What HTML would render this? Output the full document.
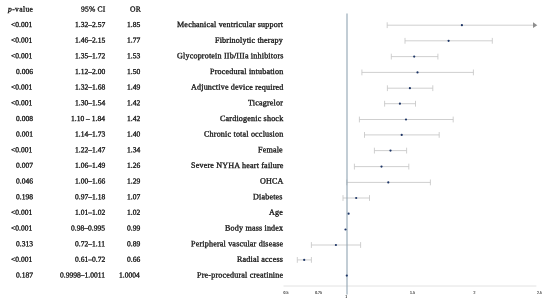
<!DOCTYPE html>
<html><head><meta charset="utf-8"><title>Forest plot</title>
<style>
html,body{margin:0;padding:0;background:#fff;}
body{width:550px;height:306px;position:relative;overflow:hidden;font-family:"Liberation Serif",serif;color:#151515;}
.t{position:absolute;white-space:nowrap;font-size:7.55px;line-height:10px;height:10px;text-align:right;-webkit-text-stroke:0.32px #151515;}
.p{right:517.5px;}
.c{right:444.9px;}
.o{right:409.8px;}
.l{right:267px;font-size:8.1px;letter-spacing:0.17px;margin-right:-0.17px}
svg{position:absolute;left:0;top:0;}
.ax{font-family:"Liberation Serif",serif;font-size:3.9px;fill:#2a2a2a;stroke:#2a2a2a;stroke-width:0.12px;}
</style></head><body>

<div class="t p" style="top:4px;transform:translateY(0.57px) rotate(0.05deg)"><span style="letter-spacing:0.38px;margin-right:-0.38px"><i>p</i>-value</span></div>
<div class="t c" style="top:4px;transform:translateY(0.57px) rotate(0.05deg)"><span style="letter-spacing:0.2px;margin-right:-0.2px">95% CI</span></div>
<div class="t o" style="top:4px;transform:translateY(0.57px) rotate(0.05deg)"><span style="letter-spacing:0.2px;margin-right:-0.2px">OR</span></div>
<div class="t p" style="top:19px;transform:translateY(0.97px) rotate(0.05deg)">&lt;0.001</div>
<div class="t c" style="top:19px;transform:translateY(0.97px) rotate(0.05deg)">1.32–2.57</div>
<div class="t o" style="top:19px;transform:translateY(0.97px) rotate(0.05deg)">1.85</div>
<div class="t l" style="top:20px;transform:translateY(0.00px) rotate(0.05deg)">Mechanical ventricular support</div>
<div class="t p" style="top:35px;transform:translateY(0.62px) rotate(0.05deg)">&lt;0.001</div>
<div class="t c" style="top:35px;transform:translateY(0.62px) rotate(0.05deg)">1.46–2.15</div>
<div class="t o" style="top:35px;transform:translateY(0.62px) rotate(0.05deg)">1.77</div>
<div class="t l" style="top:35px;transform:translateY(0.66px) rotate(0.05deg)">Fibrinolytic therapy</div>
<div class="t p" style="top:51px;transform:translateY(0.28px) rotate(0.05deg)">&lt;0.001</div>
<div class="t c" style="top:51px;transform:translateY(0.28px) rotate(0.05deg)">1.35–1.72</div>
<div class="t o" style="top:51px;transform:translateY(0.28px) rotate(0.05deg)">1.53</div>
<div class="t l" style="top:51px;transform:translateY(0.31px) rotate(0.05deg)">Glycoprotein IIb/IIIa inhibitors</div>
<div class="t p" style="top:66px;transform:translateY(0.94px) rotate(0.05deg)">0.006</div>
<div class="t c" style="top:66px;transform:translateY(0.94px) rotate(0.05deg)">1.12–2.00</div>
<div class="t o" style="top:66px;transform:translateY(0.94px) rotate(0.05deg)">1.50</div>
<div class="t l" style="top:66px;transform:translateY(0.97px) rotate(0.05deg)">Procedural intubation</div>
<div class="t p" style="top:82px;transform:translateY(0.59px) rotate(0.05deg)">&lt;0.001</div>
<div class="t c" style="top:82px;transform:translateY(0.59px) rotate(0.05deg)">1.32–1.68</div>
<div class="t o" style="top:82px;transform:translateY(0.59px) rotate(0.05deg)">1.49</div>
<div class="t l" style="top:82px;transform:translateY(0.62px) rotate(0.05deg)">Adjunctive device required</div>
<div class="t p" style="top:98px;transform:translateY(0.24px) rotate(0.05deg)">&lt;0.001</div>
<div class="t c" style="top:98px;transform:translateY(0.24px) rotate(0.05deg)">1.30–1.54</div>
<div class="t o" style="top:98px;transform:translateY(0.24px) rotate(0.05deg)">1.42</div>
<div class="t l" style="top:98px;transform:translateY(0.27px) rotate(0.05deg)">Ticagrelor</div>
<div class="t p" style="top:113px;transform:translateY(0.90px) rotate(0.05deg)">0.008</div>
<div class="t c" style="top:113px;transform:translateY(0.90px) rotate(0.05deg)">1.10 – 1.84</div>
<div class="t o" style="top:113px;transform:translateY(0.90px) rotate(0.05deg)">1.42</div>
<div class="t l" style="top:113px;transform:translateY(0.93px) rotate(0.05deg)">Cardiogenic shock</div>
<div class="t p" style="top:129px;transform:translateY(0.55px) rotate(0.05deg)">0.001</div>
<div class="t c" style="top:129px;transform:translateY(0.55px) rotate(0.05deg)">1.14–1.73</div>
<div class="t o" style="top:129px;transform:translateY(0.55px) rotate(0.05deg)">1.40</div>
<div class="t l" style="top:129px;transform:translateY(0.58px) rotate(0.05deg)">Chronic total occlusion</div>
<div class="t p" style="top:145px;transform:translateY(0.21px) rotate(0.05deg)">&lt;0.001</div>
<div class="t c" style="top:145px;transform:translateY(0.21px) rotate(0.05deg)">1.22–1.47</div>
<div class="t o" style="top:145px;transform:translateY(0.21px) rotate(0.05deg)">1.34</div>
<div class="t l" style="top:145px;transform:translateY(0.24px) rotate(0.05deg)">Female</div>
<div class="t p" style="top:160px;transform:translateY(0.86px) rotate(0.05deg)">0.007</div>
<div class="t c" style="top:160px;transform:translateY(0.86px) rotate(0.05deg)">1.06–1.49</div>
<div class="t o" style="top:160px;transform:translateY(0.86px) rotate(0.05deg)">1.26</div>
<div class="t l" style="top:160px;transform:translateY(0.89px) rotate(0.05deg)">Severe NYHA heart failure</div>
<div class="t p" style="top:176px;transform:translateY(0.52px) rotate(0.05deg)">0.046</div>
<div class="t c" style="top:176px;transform:translateY(0.52px) rotate(0.05deg)">1.00–1.66</div>
<div class="t o" style="top:176px;transform:translateY(0.52px) rotate(0.05deg)">1.29</div>
<div class="t l" style="top:176px;transform:translateY(0.55px) rotate(0.05deg)">OHCA</div>
<div class="t p" style="top:192px;transform:translateY(0.17px) rotate(0.05deg)">0.198</div>
<div class="t c" style="top:192px;transform:translateY(0.17px) rotate(0.05deg)">0.97–1.18</div>
<div class="t o" style="top:192px;transform:translateY(0.17px) rotate(0.05deg)">1.07</div>
<div class="t l" style="top:192px;transform:translateY(0.20px) rotate(0.05deg)">Diabetes</div>
<div class="t p" style="top:207px;transform:translateY(0.83px) rotate(0.05deg)">&lt;0.001</div>
<div class="t c" style="top:207px;transform:translateY(0.83px) rotate(0.05deg)">1.01–1.02</div>
<div class="t o" style="top:207px;transform:translateY(0.83px) rotate(0.05deg)">1.02</div>
<div class="t l" style="top:207px;transform:translateY(0.86px) rotate(0.05deg)">Age</div>
<div class="t p" style="top:223px;transform:translateY(0.48px) rotate(0.05deg)">&lt;0.001</div>
<div class="t c" style="top:223px;transform:translateY(0.48px) rotate(0.05deg)">0.98–0.995</div>
<div class="t o" style="top:223px;transform:translateY(0.48px) rotate(0.05deg)">0.99</div>
<div class="t l" style="top:223px;transform:translateY(0.51px) rotate(0.05deg)">Body mass index</div>
<div class="t p" style="top:239px;transform:translateY(0.14px) rotate(0.05deg)">0.313</div>
<div class="t c" style="top:239px;transform:translateY(0.14px) rotate(0.05deg)">0.72–1.11</div>
<div class="t o" style="top:239px;transform:translateY(0.14px) rotate(0.05deg)">0.89</div>
<div class="t l" style="top:239px;transform:translateY(0.17px) rotate(0.05deg)">Peripheral vascular disease</div>
<div class="t p" style="top:254px;transform:translateY(0.79px) rotate(0.05deg)">&lt;0.001</div>
<div class="t c" style="top:254px;transform:translateY(0.79px) rotate(0.05deg)">0.61–0.72</div>
<div class="t o" style="top:254px;transform:translateY(0.79px) rotate(0.05deg)">0.66</div>
<div class="t l" style="top:254px;transform:translateY(0.82px) rotate(0.05deg)">Radial access</div>
<div class="t p" style="top:270px;transform:translateY(0.45px) rotate(0.05deg)">0.187</div>
<div class="t c" style="top:270px;transform:translateY(0.45px) rotate(0.05deg)">0.9998–1.0011</div>
<div class="t o" style="top:270px;transform:translateY(0.45px) rotate(0.05deg)">1.0004</div>
<div class="t l" style="top:270px;transform:translateY(0.48px) rotate(0.05deg)">Pre-procedural creatinine</div>
<svg width="550" height="306" viewBox="0 0 550 306">
<line x1="283.5" y1="286" x2="536.4" y2="286" stroke="#e2e2e2" stroke-width="1"/>
<line x1="387.2" y1="25.2" x2="534.0" y2="25.2" stroke="#c6c6c6" stroke-width="0.85"/>
<line x1="387.2" y1="22.3" x2="387.2" y2="28.1" stroke="#c6c6c6" stroke-width="0.85"/>
<polygon points="533.0,22.3 537.3,25.2 533.0,28.1" fill="#8e8e8e"/>
<line x1="405.0" y1="40.8" x2="492.3" y2="40.8" stroke="#c6c6c6" stroke-width="0.85"/>
<line x1="405.0" y1="37.9" x2="405.0" y2="43.7" stroke="#c6c6c6" stroke-width="0.85"/>
<line x1="492.3" y1="37.9" x2="492.3" y2="43.7" stroke="#c6c6c6" stroke-width="0.85"/>
<line x1="391.3" y1="56.6" x2="437.9" y2="56.6" stroke="#c6c6c6" stroke-width="0.85"/>
<line x1="391.3" y1="53.7" x2="391.3" y2="59.5" stroke="#c6c6c6" stroke-width="0.85"/>
<line x1="437.9" y1="53.7" x2="437.9" y2="59.5" stroke="#c6c6c6" stroke-width="0.85"/>
<line x1="361.9" y1="72.4" x2="473.4" y2="72.4" stroke="#c6c6c6" stroke-width="0.85"/>
<line x1="361.9" y1="69.5" x2="361.9" y2="75.3" stroke="#c6c6c6" stroke-width="0.85"/>
<line x1="473.4" y1="69.5" x2="473.4" y2="75.3" stroke="#c6c6c6" stroke-width="0.85"/>
<line x1="387.4" y1="88.2" x2="432.8" y2="88.2" stroke="#c6c6c6" stroke-width="0.85"/>
<line x1="387.4" y1="85.3" x2="387.4" y2="91.1" stroke="#c6c6c6" stroke-width="0.85"/>
<line x1="432.8" y1="85.3" x2="432.8" y2="91.1" stroke="#c6c6c6" stroke-width="0.85"/>
<line x1="384.6" y1="103.7" x2="415.5" y2="103.7" stroke="#c6c6c6" stroke-width="0.85"/>
<line x1="384.6" y1="100.8" x2="384.6" y2="106.6" stroke="#c6c6c6" stroke-width="0.85"/>
<line x1="415.5" y1="100.8" x2="415.5" y2="106.6" stroke="#c6c6c6" stroke-width="0.85"/>
<line x1="359.4" y1="119.5" x2="453.2" y2="119.5" stroke="#c6c6c6" stroke-width="0.85"/>
<line x1="359.4" y1="116.6" x2="359.4" y2="122.4" stroke="#c6c6c6" stroke-width="0.85"/>
<line x1="453.2" y1="116.6" x2="453.2" y2="122.4" stroke="#c6c6c6" stroke-width="0.85"/>
<line x1="364.5" y1="134.9" x2="439.2" y2="134.9" stroke="#c6c6c6" stroke-width="0.85"/>
<line x1="364.5" y1="132.0" x2="364.5" y2="137.8" stroke="#c6c6c6" stroke-width="0.85"/>
<line x1="439.2" y1="132.0" x2="439.2" y2="137.8" stroke="#c6c6c6" stroke-width="0.85"/>
<line x1="374.4" y1="150.6" x2="406.6" y2="150.6" stroke="#c6c6c6" stroke-width="0.85"/>
<line x1="374.4" y1="147.7" x2="374.4" y2="153.5" stroke="#c6c6c6" stroke-width="0.85"/>
<line x1="406.6" y1="147.7" x2="406.6" y2="153.5" stroke="#c6c6c6" stroke-width="0.85"/>
<line x1="354.4" y1="166.6" x2="408.8" y2="166.6" stroke="#c6c6c6" stroke-width="0.85"/>
<line x1="354.4" y1="163.7" x2="354.4" y2="169.5" stroke="#c6c6c6" stroke-width="0.85"/>
<line x1="408.8" y1="163.7" x2="408.8" y2="169.5" stroke="#c6c6c6" stroke-width="0.85"/>
<line x1="346.8" y1="182.4" x2="430.4" y2="182.4" stroke="#c6c6c6" stroke-width="0.85"/>
<line x1="346.8" y1="179.5" x2="346.8" y2="185.3" stroke="#c6c6c6" stroke-width="0.85"/>
<line x1="430.4" y1="179.5" x2="430.4" y2="185.3" stroke="#c6c6c6" stroke-width="0.85"/>
<line x1="343.0" y1="198.0" x2="369.5" y2="198.0" stroke="#c6c6c6" stroke-width="0.85"/>
<line x1="343.0" y1="195.1" x2="343.0" y2="200.9" stroke="#c6c6c6" stroke-width="0.85"/>
<line x1="369.5" y1="195.1" x2="369.5" y2="200.9" stroke="#c6c6c6" stroke-width="0.85"/>
<line x1="311.4" y1="245.0" x2="360.6" y2="245.0" stroke="#c6c6c6" stroke-width="0.85"/>
<line x1="311.4" y1="242.1" x2="311.4" y2="247.9" stroke="#c6c6c6" stroke-width="0.85"/>
<line x1="360.6" y1="242.1" x2="360.6" y2="247.9" stroke="#c6c6c6" stroke-width="0.85"/>
<line x1="297.3" y1="259.9" x2="311.4" y2="259.9" stroke="#c6c6c6" stroke-width="0.85"/>
<line x1="297.3" y1="257.0" x2="297.3" y2="262.8" stroke="#c6c6c6" stroke-width="0.85"/>
<line x1="311.4" y1="257.0" x2="311.4" y2="262.8" stroke="#c6c6c6" stroke-width="0.85"/>
<line x1="347" y1="13.6" x2="347" y2="294.5" stroke="#90a4b2" stroke-width="1.1"/>
<circle cx="461.9" cy="25.2" r="1.1" fill="#1d3566"/>
<circle cx="448.6" cy="40.8" r="1.1" fill="#1d3566"/>
<circle cx="414.2" cy="56.6" r="1.1" fill="#1d3566"/>
<circle cx="417.5" cy="72.4" r="1.1" fill="#1d3566"/>
<circle cx="409.9" cy="88.2" r="1.1" fill="#1d3566"/>
<circle cx="399.9" cy="103.7" r="1.1" fill="#1d3566"/>
<circle cx="406.0" cy="119.5" r="1.1" fill="#1d3566"/>
<circle cx="401.7" cy="134.9" r="1.1" fill="#1d3566"/>
<circle cx="390.5" cy="150.6" r="1.1" fill="#1d3566"/>
<circle cx="381.5" cy="166.6" r="1.1" fill="#1d3566"/>
<circle cx="388.3" cy="182.4" r="1.1" fill="#1d3566"/>
<circle cx="356.2" cy="198.0" r="1.1" fill="#1d3566"/>
<circle cx="348.6" cy="213.7" r="1.1" fill="#1d3566"/>
<circle cx="345.5" cy="229.5" r="1.1" fill="#1d3566"/>
<circle cx="335.9" cy="245.0" r="1.1" fill="#1d3566"/>
<circle cx="304.2" cy="259.9" r="1.1" fill="#1d3566"/>
<circle cx="346.8" cy="275.6" r="1.1" fill="#1d3566"/>
<text class="ax" x="283.6" y="294.0">0.5</text>
<text class="ax" x="315.2" y="294.0">0.75</text>
<text class="ax" x="345.2" y="297.6">1</text>
<text class="ax" x="410.1" y="294.0">1.5</text>
<text class="ax" x="473.6" y="294.0">2</text>
<text class="ax" x="536.9" y="294.0">2.5</text>
</svg>
</body></html>
